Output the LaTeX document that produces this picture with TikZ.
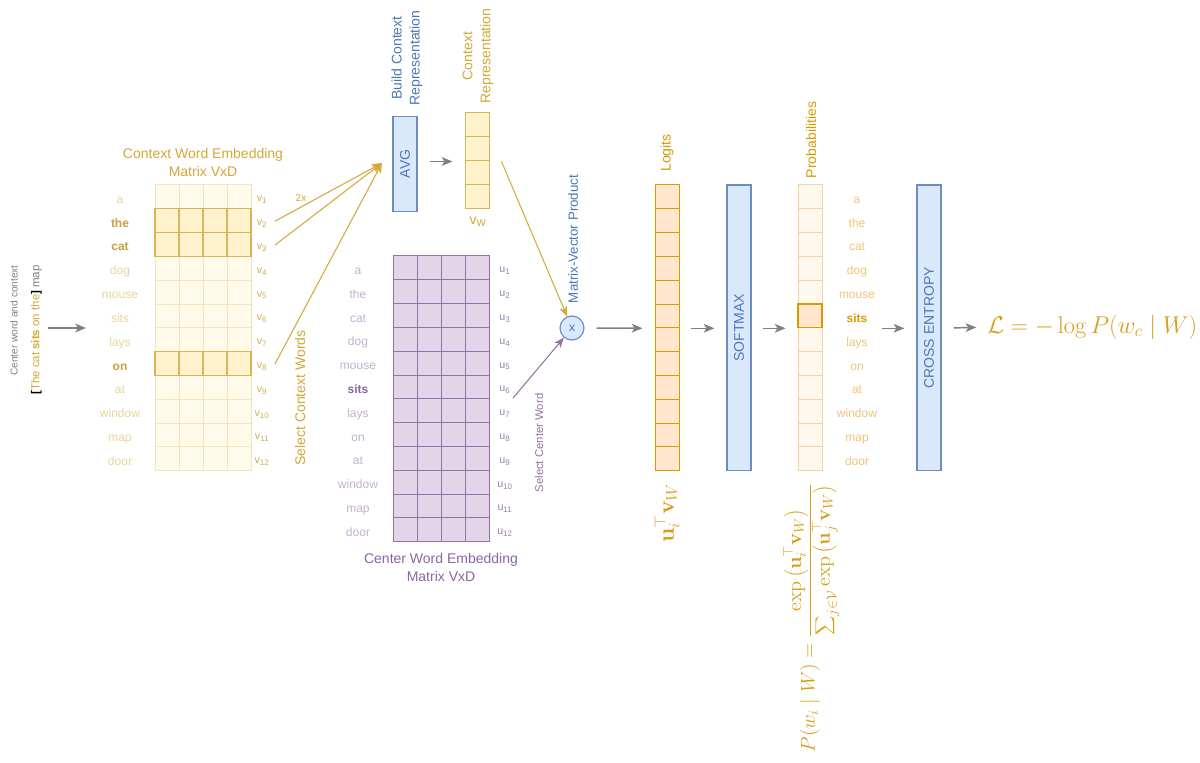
\RequirePackage{fix-cm}
\documentclass[tikz,border=0pt]{standalone}
\usepackage[no-math]{fontspec}
\setmainfont{Liberation Sans}
\usetikzlibrary{arrows.meta}
\definecolor{ctxtitle}{HTML}{D4A737}
\definecolor{ctxlight}{HTML}{E9D49A}
\definecolor{ctxbold}{HTML}{C9A042}
\definecolor{ctxv}{HTML}{D2AD4E}
\definecolor{ctxfill}{HTML}{FFFAEA}
\definecolor{ctxstroke}{HTML}{F3E6BC}
\definecolor{hifill}{HTML}{FFF2CC}
\definecolor{histroke}{HTML}{D6B656}
\definecolor{goldline}{HTML}{D4AA3A}
\definecolor{purfill}{HTML}{E1D5E7}
\definecolor{purstroke}{HTML}{9673A6}
\definecolor{purtext}{HTML}{8E63A6}
\definecolor{purlight}{HTML}{C5B0D3}
\definecolor{purbold}{HTML}{8A66A0}
\definecolor{puru}{HTML}{9A7EAF}
\definecolor{bluefill}{HTML}{DAE8FC}
\definecolor{bluestroke}{HTML}{6C8EBF}
\definecolor{bluetext}{HTML}{4C76B8}
\definecolor{orng}{HTML}{D79B00}
\definecolor{lgfill}{HTML}{FFE6CC}
\definecolor{prfill}{HTML}{FFF8EF}
\definecolor{prstroke}{HTML}{F5D3A0}
\definecolor{prlight}{HTML}{EFC47A}
\definecolor{formula}{HTML}{D69F1A}
\definecolor{arrowgray}{HTML}{808080}
\begin{document}
\begin{tikzpicture}[x=0.75pt,y=-0.75pt,
  tnine/.style={font=\fontsize{9}{11}\selectfont},
  tten/.style={font=\fontsize{10.5}{13.5}\selectfont},
  cellbase/.style={draw, minimum width=18pt, minimum height=17.85pt, inner sep=0pt, line width=0.75pt},
  ccell/.style={cellbase, draw=ctxstroke, fill=ctxfill},
  chcell/.style={cellbase, draw=histroke, fill=hifill, line width=1pt},
  pcell/.style={cellbase, draw=purstroke, fill=purfill},
  lcell/.style={cellbase, draw=orng, fill=lgfill},
  prcell/.style={cellbase, draw=prstroke, fill=prfill},
  prhcell/.style={cellbase, draw=orng, fill=lgfill, line width=1pt},
  vcell/.style={cellbase, minimum height=18pt, draw=histroke, fill=hifill},
  bluebox/.style={draw=bluestroke, fill=bluefill, line width=0.9pt, inner sep=0pt, minimum width=18pt},
  wl/.style={inner sep=0pt, anchor=base},
  cwl/.style={wl, tnine, text=ctxlight},
  cwb/.style={wl, font=\fontsize{9}{11}\selectfont\bfseries, text=ctxbold},
  pwl/.style={wl, tnine, text=purlight},
  pwb/.style={wl, font=\fontsize{9}{11}\selectfont\bfseries, text=purbold},
  rwl/.style={wl, tnine, text=prlight},
  rwb/.style={wl, font=\fontsize{9}{11}\selectfont\bfseries, text=orng},
  idxlbl/.style={font=\fontsize{8}{9.6}\selectfont, inner sep=0pt, anchor=base},
  garrow/.style={draw=arrowgray, line width=1.1pt, -{Stealth[length=8pt,width=6.5pt,inset=2pt]}},
  goldarrow/.style={draw=goldline, line width=0.8pt, -{Stealth[length=7.5pt,width=6pt,inset=2pt]}},
  purarrow/.style={draw=purstroke, line width=0.8pt, -{Stealth[length=7.5pt,width=6pt,inset=2pt]}}
]
\fill[white] (0,0) rectangle (1200,763);
\useasboundingbox (0,0) rectangle (1200,763);

% ---------- left input text ----------
\node[rotate=90, anchor=south east, inner sep=0pt, font=\fontsize{7.6}{9}\selectfont, text=arrowgray] (lefttxtA) at (18,265)
  {Center word and context};
\node[rotate=90, anchor=south east, inner sep=0pt, font=\fontsize{8.6}{10}\selectfont, text=arrowgray] (lefttxtB) at (42,265)
  {\textcolor{black}{\textbf{[}}\textcolor{ctxtitle}{The cat \textbf{sits} on the}\textcolor{black}{\textbf{]}} map};
\coordinate (inA) at (48,328);
\coordinate (inB) at (86,328);
\draw[garrow] (inA) -- (inB);

% ---------- context matrix ----------
\node[tten, text=ctxtitle, align=center, inner sep=0pt] (ctxtitle) at (203,162) {Context Word Embedding\\Matrix VxD};
\foreach \r in {1,...,12}
  \foreach \c in {1,...,4}
    \node[ccell] (cc-\r-\c) at ({167+24*(\c-1)},{196.9+23.8*(\r-1)}) {};
\foreach \r in {2,3,8}
  \foreach \c in {1,...,4}
    \node[chcell] (ch-\r-\c) at ({167+24*(\c-1)},{196.9+23.8*(\r-1)}) {};
\foreach \w/\st [count=\r] in {a/cwl,the/cwb,cat/cwb,dog/cwl,mouse/cwl,sits/cwl,lays/cwl,on/cwb,at/cwl,window/cwl,map/cwl,door/cwl}
  \node[\st] (cw-\r) at (120,{203.4+23.8*(\r-1)}) {\w};
\foreach \r in {1,...,12}
  \node[idxlbl, text=ctxv] (cv-\r) at (262,{201.9+23.8*(\r-1)}) {v\textsubscript{\r}};

% ---------- center matrix ----------
\foreach \r in {1,...,12}
  \foreach \c in {1,...,4}
    \node[pcell] (pc-\r-\c) at ({405+24*(\c-1)},{267.9+23.8*(\r-1)}) {};
\foreach \w/\st [count=\r] in {a/pwl,the/pwl,cat/pwl,dog/pwl,mouse/pwl,sits/pwb,lays/pwl,on/pwl,at/pwl,window/pwl,map/pwl,door/pwl}
  \node[\st] (pw-\r) at (358,{274.4+23.8*(\r-1)}) {\w};
\foreach \r in {1,...,12}
  \node[idxlbl, text=puru] (cu-\r) at (505,{272.9+23.8*(\r-1)}) {u\textsubscript{\r}};
\node[tten, text=purtext, align=center, inner sep=0pt] (purtitle) at (441,567) {Center Word Embedding\\Matrix VxD};

% ---------- AVG ----------
\node[bluebox, minimum height=71.25pt] (avg) at (405,164) {};
\node[rotate=90, tten, text=bluetext, inner sep=0pt] (avgtxt) at (avg.center) {AVG};
\node[rotate=90, tten, text=bluetext, align=center, inner sep=0pt] (buildlbl) at (407,58) {Build Context\\Representation};

% ---------- context vector ----------
\foreach \k in {1,...,4}
  \node[vcell] (vc-\k) at (477,{125+24*(\k-1)}) {};
\node[rotate=90, tten, text=ctxtitle, align=center, inner sep=0pt] (ctxreplbl) at (478,56) {Context\\Representation};
\node[tten, text=ctxtitle, inner sep=0pt] (vwlbl) at (478,222) {v\textsubscript{W}};

% ---------- select context words arrows ----------
\coordinate (avgin) at (382,163);
\draw[goldarrow] ([xshift=9.75pt,yshift=2pt]cv-2.center) -- (avgin);
\draw[goldarrow] ([xshift=9.75pt,yshift=2pt]cv-3.center) -- (avgin);
\draw[goldarrow] ([xshift=9.75pt,yshift=2pt]cv-8.center) -- (avgin);
\node[font=\fontsize{7.5}{9}\selectfont, text=ctxtitle, inner sep=0pt] (twox) at (301,198) {2x};
\node[rotate=90, tten, text=ctxtitle, inner sep=0pt] (selctx) at (300,398) {Select Context Words};

\draw[garrow, shorten <=9pt, shorten >=9pt] (avg.east |- vc-2.south) -- (vc-2.south west);

% ---------- matrix-vector product ----------
\node[circle, draw=bluestroke, fill=bluefill, line width=0.9pt, minimum size=18pt, inner sep=0pt, font=\fontsize{9}{11}\selectfont, text=bluetext] (mvp) at (572,328) {x};
\node[rotate=90, font=\fontsize{10}{12}\selectfont, text=bluetext, inner sep=0pt] (mvplbl) at (573,239) {Matrix-Vector Product};
\draw[goldarrow] ([xshift=9pt]vc-2.south east) -- (mvp);
\draw[purarrow] ([xshift=6pt,yshift=-6pt]cu-6.center) -- (mvp);
\node[rotate=90, font=\fontsize{8.5}{10}\selectfont, text=purstroke, inner sep=0pt] (selcen) at (539,443) {Select Center Word};

% ---------- logits ----------
\foreach \r in {1,...,12}
  \node[lcell] (lg-\r) at (667,{196.9+23.8*(\r-1)}) {};
\node[rotate=90, tten, text=orng, inner sep=0pt] (logitlbl) at (667,153) {Logits};
\node[rotate=90, text=formula, inner sep=0pt, font=\fontsize{17.3}{20}\selectfont] (lgform) at (667,513) {$\mathbf{u}_i^{\top}\mathbf{v}_W$};
\draw[garrow, shorten <=9pt, shorten >=9pt] (mvp.east) -- (lg-6.south west);

% ---------- softmax ----------
\node[bluebox, minimum height=214.2pt] (softmax) at (739,327.8) {};
\node[rotate=90, tten, text=bluetext, inner sep=0pt] (smtxt) at (softmax.center) {SOFTMAX};
\draw[garrow, shorten <=8.25pt, shorten >=9pt] (lg-6.south east) -- (softmax.west |- lg-6.south);

% ---------- probabilities ----------
\foreach \r in {1,...,12}
  \node[prcell] (pr-\r) at (810,{196.9+23.8*(\r-1)}) {};
\node[prhcell] (prh) at (pr-6.center) {};
\foreach \w/\st [count=\r] in {a/rwl,the/rwl,cat/rwl,dog/rwl,mouse/rwl,sits/rwb,lays/rwl,on/rwl,at/rwl,window/rwl,map/rwl,door/rwl}
  \node[\st] (rw-\r) at (857,{203.4+23.8*(\r-1)}) {\w};
\node[rotate=90, tten, text=orng, inner sep=0pt] (problbl) at (811,140) {Probabilities};
\draw[garrow, shorten <=8.25pt, shorten >=9pt] (softmax.east |- pr-6.south) -- (pr-6.south west);
\node[rotate=90, text=formula, inner sep=0pt, font=\fontsize{15.1}{18}\selectfont] (pform) at (811,618)
  {$\displaystyle P(w_i\mid W)=\frac{\displaystyle\exp\left(\mathbf{u}_i^{\top}\mathbf{v}_W\right)}{\displaystyle\sum\nolimits_{j\in\mathcal{V}}\exp\left(\mathbf{u}_j^{\top}\mathbf{v}_W\right)}$};

% ---------- cross entropy ----------
\node[bluebox, minimum height=214.2pt] (ce) at (929,327.8) {};
\node[rotate=90, tten, text=bluetext, inner sep=0pt] (cetxt) at (ce.center) {CROSS ENTROPY};
\draw[garrow, shorten <=44.25pt, shorten >=9pt] (pr-6.south east) -- (ce.west |- pr-6.south);

% ---------- loss ----------
\node[anchor=west, inner sep=0pt, text=formula, font=\fontsize{18.2}{22}\selectfont] (loss) at (987,327) {$\mathcal{L}=-\log P(w_c\mid W)$};
\draw[garrow, shorten <=9pt, shorten >=8pt] (ce.east |- pr-6.south) -- (loss.west);
\end{tikzpicture}
\end{document}
